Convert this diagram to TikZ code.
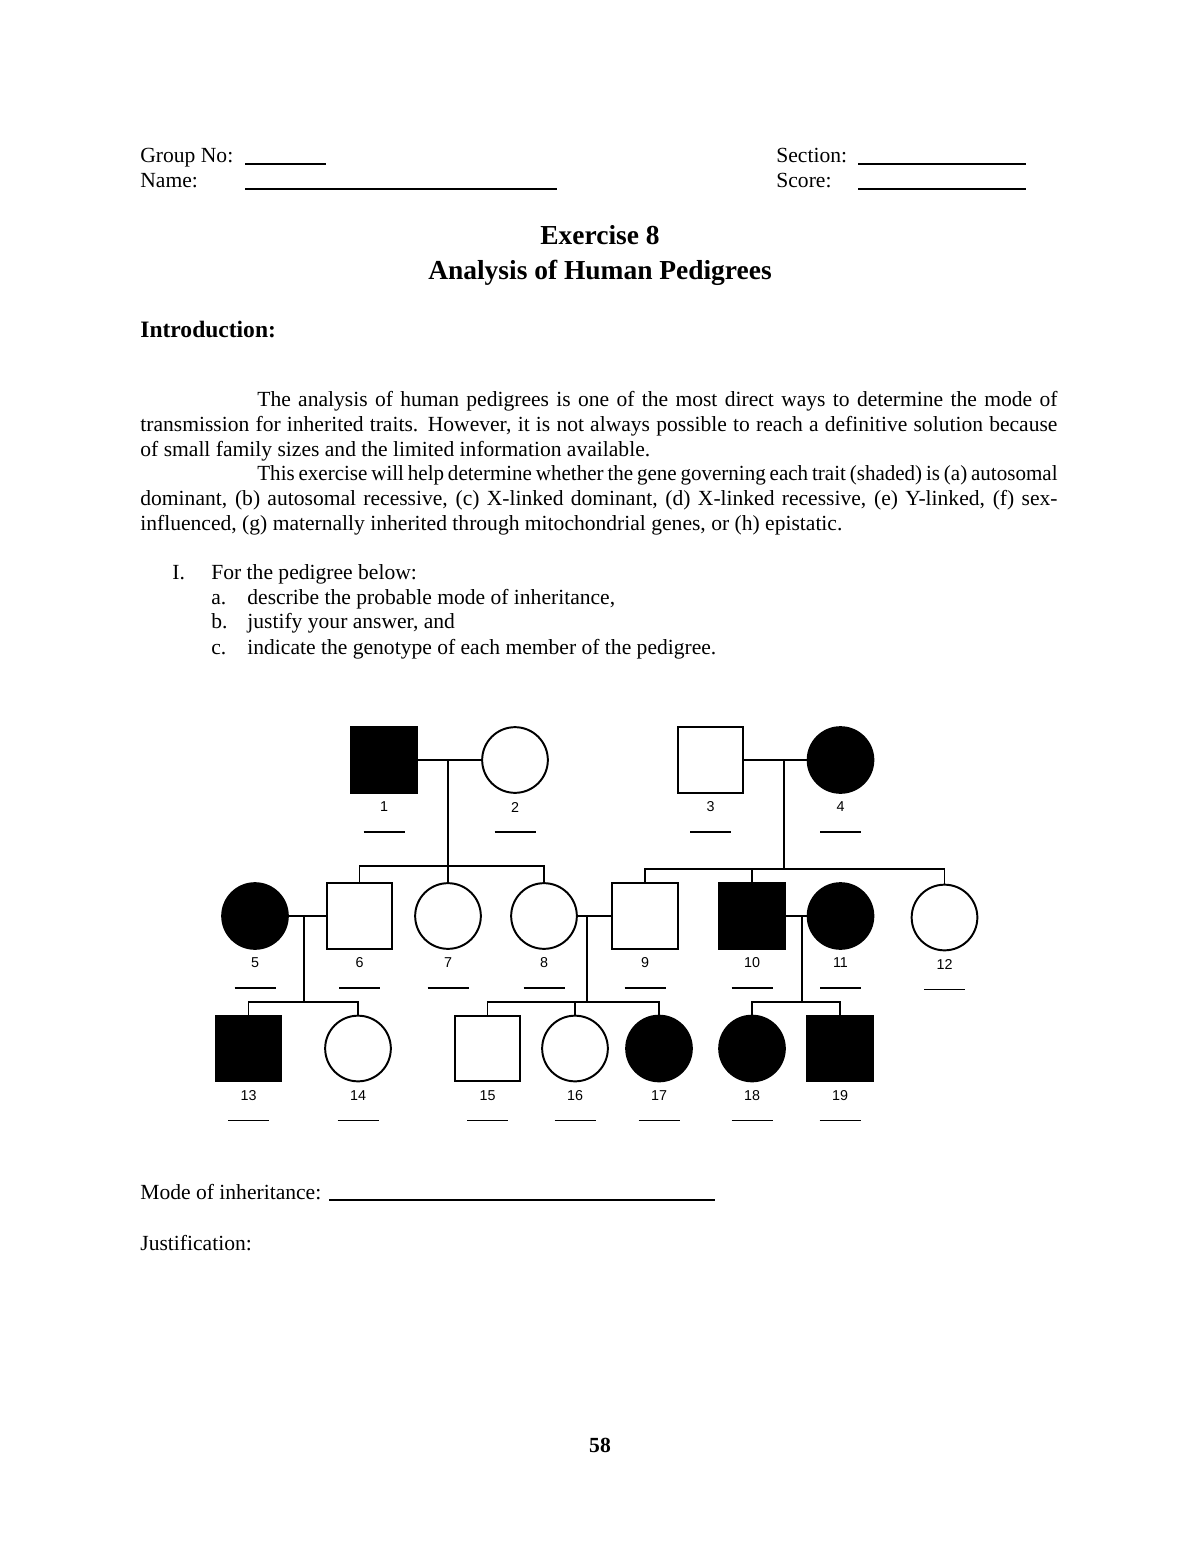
\documentclass[tikz,border=0pt]{standalone}
\usepackage{graphicx}
\usepackage{fontspec}
\setmainfont{Liberation Serif}
\newfontfamily\labelfont{Liberation Sans}
\begin{document}
\begin{tikzpicture}[x=0.51pt,y=-0.51pt,
  txt/.style={anchor=base west,inner sep=0pt,font=\fontsize{11}{13}\selectfont},
  ttl/.style={anchor=base,inner sep=0pt,font=\fontsize{14}{16}\selectfont\bfseries},
  male/.style={rectangle,draw,line width=1pt,minimum size=33.5pt,inner sep=0pt},
  female/.style={circle,draw,line width=1pt,minimum size=33.5pt,inner sep=0pt},
  aff/.style={fill=black},
  lbl/.style={inner sep=0pt,font=\labelfont\fontsize{7.3}{8}\selectfont},
  uline/.style={line width=0.6pt},
  rule/.style={line width=0.7pt},
  link/.style={line width=0.75pt}]
\fill[white] (0,0) rectangle (1200,1553);
\useasboundingbox (0,0) rectangle (1200,1553);

% header
\node[txt] (grp) at (140,163) {Group No:};
\draw[rule] (245,164) -- (326,164);
\node[txt] (nam) at (140,188) {Name:};
\draw[rule] (245,189) -- (557,189);
\node[txt] (sec) at (776,163) {Section:};
\draw[rule] (858,164) -- (1026,164);
\node[txt] (sco) at (776,188) {Score:};
\draw[rule] (858,189) -- (1026,189);

\node[ttl] (t1) at (600,245) {Exercise 8};
\node[ttl] (t2) at (600,279) {Analysis of Human Pedigrees};
\node[txt,font=\fontsize{12}{14}\selectfont\bfseries] (intro) at (140,337) {Introduction:};

% paragraphs
\node[txt] (l1) at (257,406) {\makebox[408pt][s]{The analysis of human pedigrees is one of the most direct ways to determine the mode of}};
\node[txt] (l2) at (140,431) {\makebox[467.7pt][s]{transmission for inherited traits. However, it is not always possible to reach a definitive solution because}};
\node[txt] (l3) at (140,456) {of small family sizes and the limited information available.};
\node[txt] (l4) at (257,480) {\scalebox{0.975}[1]{\makebox[418.5pt][s]{This exercise will help determine whether the gene governing each trait (shaded) is (a) autosomal}}};
\node[txt] (l5) at (140,505) {\makebox[467.7pt][s]{dominant, (b) autosomal recessive, (c) X-linked dominant, (d) X-linked recessive, (e) Y-linked, (f) sex-}};
\node[txt] (l6) at (140,530) {influenced, (g) maternally inherited through mitochondrial genes, or (h) epistatic.};

% list
\node[txt] (i1) at (172,579) {I.};
\node[txt] (i1t) at (211,579) {For the pedigree below:};
\node[txt] (ia) at (211,604) {a.};
\node[txt] (iat) at (247,604) {describe the probable mode of inheritance,};
\node[txt] (ib) at (211,628) {b.};
\node[txt] (ibt) at (247,628) {justify your answer, and};
\node[txt] (ic) at (211,654) {c.};
\node[txt] (ict) at (247,654) {indicate the genotype of each member of the pedigree.};

% pedigree
\newcommand\pedperson[5]{%
  \node[#2] (#1) at (#3,#4) {};
  \node[lbl] (#1l) at (#3,{#4+47}) {#5};
  \draw[uline] ({#3-20.5},{#4+72}) -- ({#3+20.5},{#4+72});}

\pedperson{p1}{male,aff}{384}{760}{1}
\pedperson{p2}{female}{515}{760}{2}
\pedperson{p3}{male}{710.5}{760}{3}
\pedperson{p4}{female,aff}{840.5}{760}{4}

\pedperson{p5}{female,aff}{255}{916}{5}
\pedperson{p6}{male}{359.5}{916}{6}
\pedperson{p7}{female}{448}{916}{7}
\pedperson{p8}{female}{544}{916}{8}
\pedperson{p9}{male}{645}{916}{9}
\pedperson{p10}{male,aff}{752}{916}{10}
\pedperson{p11}{female,aff}{840.5}{916}{11}
\pedperson{p12}{female}{944.5}{917.5}{12}

\pedperson{p13}{male,aff}{248.5}{1048.5}{13}
\pedperson{p14}{female}{358}{1048.5}{14}
\pedperson{p15}{male}{487.5}{1048.5}{15}
\pedperson{p16}{female}{575}{1048.5}{16}
\pedperson{p17}{female,aff}{659}{1048.5}{17}
\pedperson{p18}{female,aff}{752}{1048.5}{18}
\pedperson{p19}{male,aff}{840}{1048.5}{19}

\coordinate (m12) at (448,760);
\coordinate (s12) at (448,866);
\coordinate (m34) at (784,760);
\coordinate (s34) at (784,869);
\coordinate (m56) at (304,916);
\coordinate (s56) at (304,1002);
\coordinate (m89) at (587,916);
\coordinate (s89) at (587,1002);
\coordinate (m1011) at (802,916);
\coordinate (s1011) at (802,1002);

\draw[link] (p1.east) -- (p2.west);
\draw[link] (m12) -- (s12);
\draw[link] (p6.north) |- (s12) -| (p8.north);
\draw[link] (p7.north) -- (s12);

\draw[link] (p3.east) -- (p4.west);
\draw[link] (m34) -- (s34);
\draw[link] (p9.north) |- (s34) -| (p12.north);
\draw[link] (p10.north) -- (p10.north |- s34);

\draw[link] (p5.east) -- (p6.west);
\draw[link] (m56) -- (s56);
\draw[link] (p13.north) |- (s56) -| (p14.north);

\draw[link] (p8.east) -- (p9.west);
\draw[link] (m89) -- (s89);
\draw[link] (p15.north) |- (s89) -| (p17.north);
\draw[link] (p16.north) -- (p16.north |- s89);

\draw[link] (p10.east) -- (p11.west);
\draw[link] (m1011) -- (s1011);
\draw[link] (p18.north) |- (s1011) -| (p19.north);

% bottom
\node[txt] (mode) at (140,1199) {Mode of inheritance:};
\draw[rule] (329,1200) -- (715,1200);
\node[txt] (just) at (140,1250) {Justification:};
\node[anchor=base,inner sep=0pt,font=\fontsize{11}{13}\selectfont\bfseries] (pg) at (600,1452) {58};
\end{tikzpicture}
\end{document}
